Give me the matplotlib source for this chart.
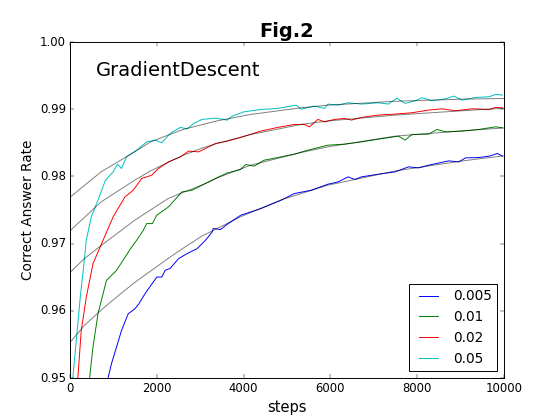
import numpy as np
import matplotlib
matplotlib.use("Agg")
import matplotlib.pyplot as plt

plt.style.use("classic")

rates = ["0.005", "0.01", "0.02", "0.05"]
colors = ["b", "g", "r", "c"]

# measured curves (steps, rate)
steps_005 = [800, 877, 955, 1072, 1187, 1342, 1497, 1589, 1729, 2000, 2115, 2193, 2309, 2501,
             2696, 2928, 3121, 3276, 3299, 3469, 3624, 3933, 4397, 4861, 5170, 5557, 5944,
             6176, 6408, 6562, 6717, 7104, 7490, 7800, 8032, 8264, 8728, 8960, 9114, 9424,
             9657, 9849, 9965]
acc_005 = [0.944, 0.950, 0.95212, 0.95459, 0.95708, 0.95956, 0.96031, 0.96106, 0.96255, 0.96502,
           0.96502, 0.96602, 0.96632, 0.96776, 0.96851, 0.96925, 0.97049, 0.97173, 0.97224,
           0.97209, 0.97288, 0.97422, 0.97521, 0.97645, 0.97745, 0.97794, 0.97884, 0.97918,
           0.97993, 0.97954, 0.97993, 0.98033, 0.98067, 0.98142, 0.98127, 0.98167, 0.98231,
           0.98216, 0.98276, 0.98281, 0.98301, 0.98341, 0.98301]

steps_01 = [350, 452, 529, 645, 840, 1072, 1420, 1535, 1689, 1767, 1898, 2000, 2269, 2579, 2811,
            3043, 3353, 3624, 3933, 4049, 4242, 4473, 4784, 5170, 5480, 5944, 6329, 6717, 7104,
            7568, 7722, 7877, 8264, 8457, 8650, 9037, 9424, 9810, 9965]
acc_01 = [0.940, 0.950, 0.95459, 0.95956, 0.96453, 0.96602, 0.96949, 0.97049, 0.97198, 0.97298,
          0.97298, 0.97422, 0.97546, 0.97769, 0.97794, 0.97869, 0.97969, 0.98052, 0.98103,
          0.98177, 0.98152, 0.98241, 0.98281, 0.98331, 0.9839, 0.98465, 0.9848, 0.98514,
          0.98554, 0.98599, 0.9854, 0.98624, 0.98629, 0.98699, 0.98663, 0.98674, 0.98699,
          0.98738, 0.98723]

steps_02 = [100, 181, 259, 375, 529, 761, 993, 1265, 1457, 1652, 1884, 2037, 2269, 2541, 2733,
            2965, 3197, 3353, 3624, 3933, 4397, 4784, 5170, 5402, 5518, 5712, 5866, 6098, 6329,
            6485, 6717, 7104, 7490, 7877, 8264, 8573, 8882, 9269, 9657, 9810, 9965]
acc_02 = [0.940, 0.950, 0.95708, 0.9620, 0.9670, 0.97049, 0.97396, 0.97694, 0.97794, 0.97969,
          0.98018, 0.98118, 0.98216, 0.98291, 0.98376, 0.98365, 0.9844, 0.9849, 0.98525,
          0.9858, 0.98674, 0.98729, 0.98773, 0.98773, 0.98738, 0.98848, 0.98812, 0.98848,
          0.98863, 0.98838, 0.98878, 0.98912, 0.98927, 0.98947, 0.98987, 0.99006, 0.98977,
          0.99006, 0.98996, 0.99027, 0.9902]

steps_05 = [0, 65, 236, 321, 375, 491, 646, 816, 994, 1094, 1187, 1303, 1535, 1767, 1960, 2115,
            2308, 2540, 2695, 2850, 3043, 3353, 3624, 3740, 4010, 4397, 4784, 5209, 5325, 5634,
            5866, 5944, 6176, 6408, 6717, 7104, 7336, 7529, 7722, 7954, 8109, 8341, 8650, 8845,
            9037, 9346, 9657, 9810, 9965]
acc_05 = [0.940, 0.950, 0.9620, 0.9670, 0.9705, 0.9740, 0.9765, 0.97943, 0.98067, 0.98182,
          0.98118, 0.98291, 0.9839, 0.98514, 0.9854, 0.985, 0.98639, 0.98729, 0.98708, 0.98788,
          0.98848, 0.98867, 0.98838, 0.98897, 0.98961, 0.98996, 0.99011, 0.99061, 0.99001,
          0.99046, 0.99011, 0.99076, 0.99061, 0.99096, 0.99076, 0.99096, 0.99076, 0.99165,
          0.99086, 0.99125, 0.9917, 0.99125, 0.99155, 0.99195, 0.99135, 0.99175, 0.99185,
          0.9922, 0.9921]

# fitted curves (gray)
fit_steps_005 = [0, 329, 715, 1102, 1489, 1875, 2262, 2650, 3035, 3313, 3933, 4861, 5944,
                 7490, 9037, 10042]
fit_005 = [0.9553, 0.9578, 0.9601, 0.9622, 0.9642, 0.9660, 0.9678, 0.9695, 0.9711, 0.9720,
           0.9740, 0.9765, 0.9787, 0.9808, 0.9823, 0.9831]
fit_steps_01 = [0, 329, 715, 1489, 2262, 2541, 3035, 3392, 4165, 5325, 5944, 7490, 9037, 10042]
fit_01 = [0.9657, 0.96776, 0.9697, 0.97347, 0.97671, 0.97745, 0.9787, 0.97978, 0.98167,
          0.98356, 0.9844, 0.98599, 0.98678, 0.98723]
fit_steps_02 = [0, 715, 1489, 1845, 2262, 2617, 3035, 3392, 4165, 5325, 5944, 7490, 9037, 10042]
fit_02 = [0.97190, 0.9762, 0.97943, 0.98078, 0.9821, 0.98316, 0.9842, 0.9849, 0.98624,
          0.98773, 0.98825, 0.98912, 0.98977, 0.99016]
fit_steps_05 = [0, 715, 1489, 1845, 2262, 2617, 3392, 4165, 5325, 5944, 7490, 9037, 10042]
fit_05 = [0.9769, 0.98067, 0.98365, 0.9851, 0.98615, 0.98700, 0.98827, 0.98922, 0.99021,
          0.99060, 0.99118, 0.9915, 0.9916]

data = [(steps_005, acc_005), (steps_01, acc_01), (steps_02, acc_02), (steps_05, acc_05)]
fits = [(fit_steps_005, fit_005), (fit_steps_01, fit_01), (fit_steps_02, fit_02),
        (fit_steps_05, fit_05)]

fig = plt.figure(figsize=(8, 6), dpi=70, facecolor="w")
ax = fig.add_subplot(111)

for (s, a), c, lab in zip(data, colors, rates):
    ax.plot(s, a, color=c, label=lab)
for s, a in fits:
    ax.plot(s, a, color="k", alpha=0.5)

ax.set_xlim(0, 10000)
ax.set_ylim(0.95, 1.00)
ax.set_xticks([0, 2000, 4000, 6000, 8000, 10000])
ax.set_yticks([0.95, 0.96, 0.97, 0.98, 0.99, 1.00])
ax.set_yticklabels(["0.95", "0.96", "0.97", "0.98", "0.99", "1.00"])
ax.text(600, 0.995, "GradientDescent", fontsize=20, va="baseline")
ax.set_title("Fig.2", fontsize=20, fontweight="bold")
ax.set_xlabel("steps", fontsize=15)
ax.set_ylabel("Correct Answer Rate", fontsize=14)
ax.legend(loc="lower right", fontsize=14)

fig.savefig("out.png", dpi=70, facecolor="w")
